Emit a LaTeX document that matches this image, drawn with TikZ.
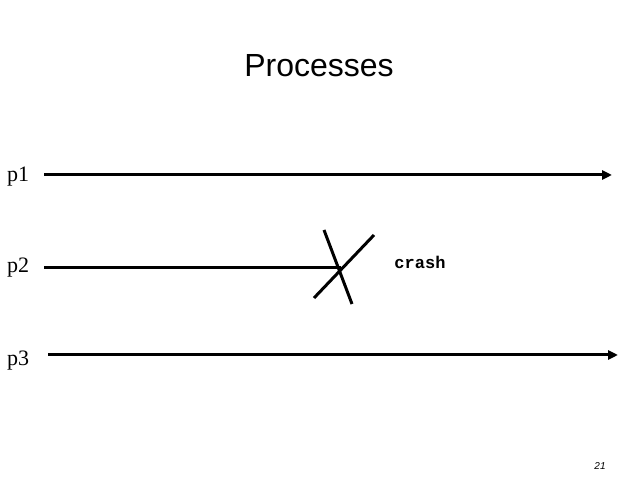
\documentclass[tikz,border=0pt]{standalone}
\usepackage{fontspec}
\setmainfont{Liberation Serif}
\setsansfont{Liberation Sans}
\setmonofont{Liberation Mono}
\usetikzlibrary{arrows.meta}
\begin{document}
\begin{tikzpicture}[x=1pt,y=-1pt,
  proc/.style={line width=3pt},
  arr/.style={proc,-{Triangle[length=10pt,width=9pt]}},
  lbl/.style={font=\fontsize{22}{24}\selectfont}]
\useasboundingbox (0,0) rectangle (638,478);
\node[font=\sffamily\fontsize{32}{36}\selectfont] (title) at (319,66) {Processes};
\node[lbl] (l1) at (18,177) {p1};
\node[lbl] (l2) at (18,268) {p2};
\node[lbl] (l3) at (18,361) {p3};
\coordinate (s1) at (44,175); \coordinate (e1) at (612,175);
\coordinate (s2) at (44,268); \coordinate (e2) at (341,268);
\coordinate (s3) at (48,355); \coordinate (e3) at (618,355);
\draw[arr] (s1) -- (e1);
\draw[proc] (s2) -- (e2);
\draw[arr] (s3) -- (e3);
\coordinate (a1) at (324,230); \coordinate (a2) at (352,304);
\coordinate (b1) at (374,235); \coordinate (b2) at (314,298);
\draw[proc] (a1) -- (a2);
\draw[proc] (b1) -- (b2);
\node[font=\ttfamily\bfseries\fontsize{17}{20}\selectfont] (crash) at (420,262) {crash};
\node[font=\sffamily\itshape\fontsize{10}{12}\selectfont] (pg) at (600,466) {21};
\end{tikzpicture}
\end{document}
